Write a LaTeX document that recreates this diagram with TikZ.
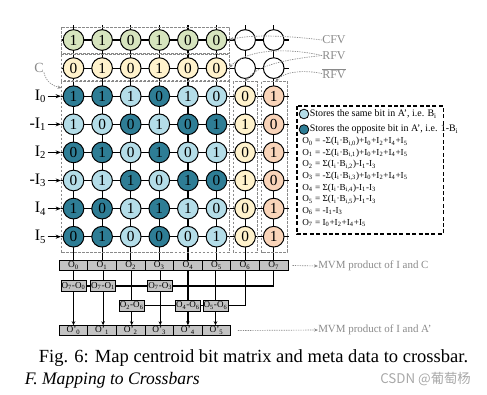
\documentclass[tikz,border=0pt]{standalone}
\usepackage{fontspec}
\setmainfont{Liberation Serif}
\newfontfamily\cjkfont{Noto Sans CJK SC}
\usetikzlibrary{arrows.meta}
\definecolor{cfvgreen}{HTML}{D6E4BE}
\definecolor{rfvyellow}{HTML}{FFF2CC}
\definecolor{lblue}{HTML}{B4DDE8}
\definecolor{dteal}{HTML}{2E7D95}
\definecolor{peach}{HTML}{F9D4B9}
\definecolor{boxgray}{HTML}{C3C3C3}
\definecolor{annot}{HTML}{8A8A8A}
\definecolor{wmark}{HTML}{A8A8A8}
\tikzset{
  cell/.style={circle, draw=black, line width=0.75pt, minimum size=15.5pt, inner sep=0pt, font=\fontsize{11.5}{11.5}\selectfont},
  fg/.style={fill=cfvgreen}, fy/.style={fill=rfvyellow}, fd/.style={fill=dteal},
  fl/.style={fill=lblue}, fp/.style={fill=peach}, fw/.style={fill=white},
  gridline/.style={line width=0.9pt, black},
  grpbox/.style={draw=annot, line width=0.6pt, dash pattern=on 2pt off 1pt},
  annline/.style={draw=annot, line width=0.5pt, dash pattern=on 1pt off 0.8pt, -{Stealth[length=3pt,width=2.4pt]}},
  annlabel/.style={text=annot, inner sep=0pt, font=\fontsize{9}{9}\selectfont},
  inlabel/.style={inner sep=0pt, font=\fontsize{12}{12}\selectfont},
  inarrow/.style={line width=0.8pt, -{Stealth[length=4pt,width=3pt]}},
  obox/.style={draw=black, fill=boxgray, line width=0.75pt, minimum width=21.45pt, minimum height=7.1pt, inner sep=0pt, font=\fontsize{7}{7}\selectfont},
  mbox/.style={draw=black, fill=boxgray, line width=0.75pt, minimum width=18.75pt, minimum height=8.25pt, inner sep=0pt, font=\fontsize{6.8}{6.8}\selectfont},
  wire/.style={line width=0.9pt, black},
  wirearrow/.style={line width=0.9pt, black, -{Stealth[length=3pt,width=2.6pt]}},
  legtext/.style={inner sep=0pt, anchor=west, font=\fontsize{6.9}{6.9}\selectfont},
  legcirc/.style={circle, draw=black, line width=0.6pt, minimum size=7.2pt, inner sep=0pt},
}
\begin{document}
\begin{tikzpicture}[x=0.75pt,y=-0.75pt]
\useasboundingbox (0,0) rectangle (487,394);

% output boxes (row 1)
\foreach \c in {0,...,7} {
  \node[obox] (o\c) at ({73.5+28.6*\c},265.5) {O\textsubscript{\c}};
}
% grid lines
\foreach \c in {0,...,7} {
  \coordinate (top\c) at ({73.5+28.6*\c},25);
  \draw[gridline] (top\c) -- (o\c.north);
}
\foreach \r in {0,...,7} {
  \coordinate (ls\r) at (61,{40+28.1*\r});
  \coordinate (le\r) at (289,{40+28.1*\r});
  \draw[gridline] (ls\r) -- (le\r);
}

% group boxes
\draw[grpbox] (61,27) rectangle (229,53);
\draw[grpbox] (61,54.5) rectangle (229,80);
\draw[grpbox] (61,81.5) rectangle (229,252);
\draw[grpbox] (233,81.5) rectangle (257,252);
\draw[grpbox] (261.5,81.5) rectangle (287,252);

% cells
\foreach \r/\row in {
0/{g/1,g/1,g/0,g/1,g/0,g/0,w/{},w/{}},
1/{y/0,y/1,y/0,y/1,y/0,y/0,w/{},w/{}},
2/{d/1,d/1,l/1,d/0,l/1,l/0,y/0,p/1},
3/{l/1,l/0,d/0,l/1,d/0,d/1,y/1,p/0},
4/{d/0,d/1,l/0,d/1,l/0,l/1,y/0,p/1},
5/{l/0,l/1,d/1,l/0,d/1,d/0,y/1,p/0},
6/{d/1,d/0,l/1,d/1,l/1,l/0,y/0,p/1},
7/{d/0,d/1,l/0,d/0,l/0,l/1,y/0,p/1}}{
  \foreach \f/\v [count=\c from 0] in \row {
    \node[cell, f\f] (n\r-\c) at ({73.5+28.6*\c},{40+28.1*\r}) {\v};
  }
}

% input labels
\foreach \r/\t in {2/{I\textsubscript{0}},3/{-I\textsubscript{1}},4/{I\textsubscript{2}},5/{-I\textsubscript{3}},6/{I\textsubscript{4}},7/{I\textsubscript{5}}} {
  \node[inlabel, anchor=east] (lab\r) at (46.5,{40+28.1*\r}) {\t};
  \draw[inarrow] (lab\r.east) ++(0.8pt,0) -- (ls\r);
}

% C annotation
\node[annlabel, font=\fontsize{10.5}{10.5}\selectfont] (clab) at (39,67.5) {C};
\coordinate (cend) at (61.5,88);
\draw[annline] (clab.south east) .. controls (46,82) and (53,86) .. (cend);

% CFV / RFV annotations
\node[annlabel, anchor=west] (cfvlab) at (322,40) {CFV};
\node[annlabel, anchor=west] (rfvlab) at (322,55.5) {RFV};
\node[annlabel, anchor=west] (rfvblab) at (322,73.5) {$\overline{\hbox{RFV}}$};
\coordinate (cfvend) at (229.5,39.5);
\coordinate (rfvend) at (229.5,67.5);
\coordinate (c6end) at (245,81.5);
\coordinate (c7end) at (275.5,81.5);
\draw[annline] (cfvlab.west) .. controls (290,36) and (255,34) .. (cfvend);
\draw[annline] (rfvlab.west) .. controls (285,47) and (245,50) .. (rfvend);
\draw[annline] (rfvlab.west) .. controls (290,59) and (258,64) .. (c6end);
\draw[annline] (rfvblab.west) .. controls (305,70) and (285,71) .. (c7end);

% mid boxes
\node[mbox] (mA0) at (73.5,286) {O\textsubscript{7}-O\textsubscript{0}};
\node[mbox] (mA1) at (103.1,286) {O\textsubscript{7}-O\textsubscript{1}};
\node[mbox] (mA3) at (160.3,286) {O\textsubscript{7}-O\textsubscript{3}};
\node[mbox] (mB2) at (131.7,305.5) {O\textsubscript{2}-O\textsubscript{6}};
\node[mbox] (mB4) at (187.9,305.5) {O\textsubscript{4}-O\textsubscript{6}};
\node[mbox] (mB5) at (215.5,305.5) {O\textsubscript{5}-O\textsubscript{6}};

% final boxes
\foreach \c in {0,...,5} {
  \node[obox] (op\c) at ({73.5+28.6*\c},330.5) {O\textquoteright\textsubscript{\c}};
}

% wiring
\foreach \c/\m in {0/mA0,1/mA1,3/mA3,2/mB2,4/mB4,5/mB5} {
  \draw[wire] (o\c.south -| \m) -- (\m.north);
  \draw[wirearrow] (\m.south) -- (op\c.north -| \m);
}
\draw[wire] (o7.south) |- (mA3.east);
\draw[wire] (mA3.west) -- (mA1.east);
\draw[wire] (mA1.west) -- (mA0.east);
\draw[wire] (o6.south) |- (mB5.east);
\draw[wire] (mB5.west) -- (mB4.east);
\draw[wire] (mB4.west) -- (mB2.east);

% MVM annotations
\node[annlabel, anchor=west, font=\fontsize{8.2}{8.2}\selectfont] (mvm1) at (318,266) {MVM product of I and C};
\node[annlabel, anchor=west, font=\fontsize{8.2}{8.2}\selectfont] (mvm2) at (318,330) {MVM product of I and A\textquoteright};
\draw[annline] ([xshift=3pt]o7.east) -- (mvm1.west);
\draw[annline] ([xshift=5pt]op5.east) -- (mvm2.west);

% legend
\draw[black, line width=0.8pt, dash pattern=on 3pt off 1.8pt] (297,106) rectangle (443.5,234);
\node[legcirc, fill=lblue] (lc1) at (304,114) {};
\node[legcirc, fill=dteal] (lc2) at (304,129.5) {};
\node[legtext, font=\fontsize{7.45}{7.45}\selectfont] (lt1) at (309.5,114) {Stores the same bit in A\textquoteright, i.e. B\textsubscript{i}};
\node[legtext, font=\fontsize{7.45}{7.45}\selectfont] (lt2) at (309.5,129.5) {Stores the opposite bit in A\textquoteright, i.e. 1-B\textsubscript{i}};
\foreach \k/\t in {
0/{O\textsubscript{0} = -Σ(I\textsubscript{i}·B\textsubscript{i,0})+I\textsubscript{0}+I\textsubscript{2}+I\textsubscript{4}+I\textsubscript{5}},
1/{O\textsubscript{1} = -Σ(I\textsubscript{i}·B\textsubscript{i,1})+I\textsubscript{0}+I\textsubscript{2}+I\textsubscript{4}+I\textsubscript{5}},
2/{O\textsubscript{2} = Σ(I\textsubscript{i}·B\textsubscript{i,2})-I\textsubscript{1}-I\textsubscript{3}},
3/{O\textsubscript{3} = -Σ(I\textsubscript{i}·B\textsubscript{i,3})+I\textsubscript{0}+I\textsubscript{2}+I\textsubscript{4}+I\textsubscript{5}},
4/{O\textsubscript{4} = Σ(I\textsubscript{i}·B\textsubscript{i,4})-I\textsubscript{1}-I\textsubscript{3}},
5/{O\textsubscript{5} = Σ(I\textsubscript{i}·B\textsubscript{i,5})-I\textsubscript{1}-I\textsubscript{3}},
6/{O\textsubscript{6} = -I\textsubscript{1}-I\textsubscript{3}},
7/{O\textsubscript{7} = I\textsubscript{0}+I\textsubscript{2}+I\textsubscript{4}+I\textsubscript{5}}} {
  \node[legtext] (eq\k) at (302,{141.7+11.6*\k}) {\t};
}

% caption
\node[inner sep=0pt, font=\fontsize{13.9}{13.9}\selectfont] (cap) at (253.5,358) {Fig. 6: Map centroid bit matrix and meta data to crossbar.};
\node[inner sep=0pt, anchor=west, font=\fontsize{13.2}{13.2}\selectfont\itshape] (sec) at (24.5,380) {F. Mapping to Crossbars};
\node[inner sep=0pt, anchor=west, text=wmark, font=\cjkfont\fontsize{10}{10}\selectfont] (wm) at (380,379) {CSDN @葡萄杨};
\end{tikzpicture}
\end{document}
